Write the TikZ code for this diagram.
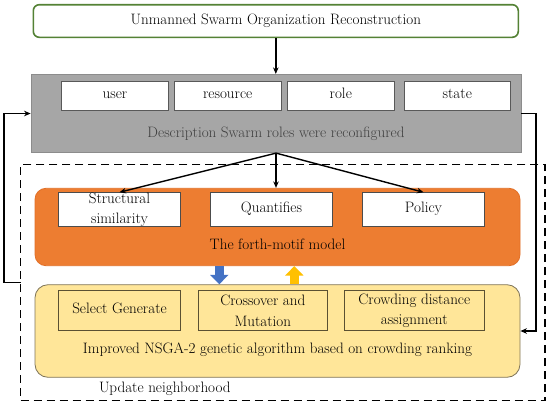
\documentclass[tikz,border=0pt]{standalone}
\usepackage{fontspec}
\usetikzlibrary{arrows.meta}
\definecolor{grn}{RGB}{84,130,53}
\definecolor{grayfill}{RGB}{166,166,166}
\definecolor{grayline}{RGB}{140,140,140}
\definecolor{orng}{RGB}{237,125,49}
\definecolor{orngline}{RGB}{226,112,40}
\definecolor{ylw}{RGB}{255,230,153}
\definecolor{ylwline}{RGB}{128,118,90}
\definecolor{innerline}{RGB}{90,80,50}
\definecolor{blu}{RGB}{68,114,196}
\definecolor{gold}{RGB}{255,192,0}
\definecolor{desc}{RGB}{64,64,64}
\tikzset{
  txt/.style={font=\fontsize{15.1}{20.7}\selectfont, align=center, inner sep=0pt},
  oneline/.style={text height=10pt, text depth=4pt},
  whitebox/.style={draw=black!65, fill=white, line width=0.9pt, minimum height=29pt, minimum width=106.5pt, inner sep=0pt, txt, oneline},
  orbox/.style={draw=black!70, fill=white, line width=0.9pt, minimum height=34pt, minimum width=122pt, inner sep=0pt, txt},
  ybox/.style={draw=innerline, fill=ylw, line width=0.9pt, minimum height=40pt, inner sep=0pt, txt},
  conn/.style={draw=black, line width=1.4pt, -{Stealth[length=6.5pt,width=5.5pt]}},
  fatarrow/.style={line width=9pt, -{Triangle[length=9.5pt,width=18pt]}},
}
\begin{document}
\begin{tikzpicture}[x=1pt,y=-1pt]
\useasboundingbox[fill=white] (0,0) rectangle (550,407);
% top box
\node[draw=grn, line width=1.6pt, rounded corners=6pt, fill=white, minimum width=485pt, minimum height=32.6pt, txt, oneline] (top) at (275.8,21) {Unmanned Swarm Organization Reconstruction};
% gray panel
\node[draw=grayline, fill=grayfill, line width=0.8pt, minimum width=490pt, minimum height=78.4pt, inner sep=0pt] (gray) at (276,113.5) {};
\node[whitebox] (user) at (115,95.5) {user};
\node[whitebox] (resource) at (227.7,95.5) {resource};
\node[whitebox] (role) at (340.8,95.5) {role};
\node[whitebox] (state) at (457.3,95.5) {state};
\node[txt, oneline, text=desc] (desc) at (276,134) {Description Swarm roles were reconfigured};
% dashed region
\node[draw=black, dash pattern=on 8pt off 5pt, line width=1.5pt, minimum width=524.3pt, minimum height=236pt, inner sep=0pt] (dash) at (282.85,282.7) {};
% orange panel
\node[draw=orngline, fill=orng, line width=0.8pt, rounded corners=11pt, minimum width=485pt, minimum height=77.4pt, inner sep=0pt] (orange) at (277.5,227) {};
\node[orbox] (ss) at (119.5,209.7) {};
\node[txt] (sstext) at (119.5,209.7) {Structural\\similarity};
\node[orbox, oneline] (qu) at (271.5,209.7) {Quantifies};
\node[orbox, oneline] (po) at (423.5,209.7) {Policy};
\node[txt, oneline] (forth) at (277.5,246.7) {The forth-motif model};
% yellow panel
\node[draw=ylwline, fill=ylw, line width=0.8pt, rounded corners=13pt, minimum width=485pt, minimum height=92.6pt, inner sep=0pt] (yellow) at (277.5,331) {};
\node[ybox, oneline, minimum width=122.4pt] (sg) at (119.5,310.7) {Select Generate};
\node[ybox, minimum width=129pt] (cm) at (262.8,310.7) {Crossover and\\Mutation};
\node[ybox, minimum width=140pt] (cd) at (414.3,310.7) {Crowding distance\\assignment};
\node[txt, oneline] (nsga) at (277.5,350.7) {Improved NSGA-2 genetic algorithm based on crowding ranking};
\node[txt, oneline] (upd) at (164.8,389) {Update neighborhood};
% connectors
\draw[conn] (top.south) -- (top.south |- gray.north);
\draw[conn] (gray.south) -- (ss.north);
\draw[conn] (gray.south) -- (gray.south |- orange.north);
\draw[conn] (gray.south) -- (po.north);
\coordinate (lf) at (20.7,282.3);
\draw[conn] (lf) -- (4,282.3) |- (gray.west);
\draw[conn] (gray.east) -- (536,113.5) |- (yellow.east);
% fat arrows
\draw[fatarrow, draw=blu, fill=blu] (orange.south -| 219.3,0) -- (yellow.north -| 219.3,0);
\draw[fatarrow, draw=gold, fill=gold] (yellow.north -| 294.3,0) -- (orange.south -| 294.3,0);
\end{tikzpicture}
\end{document}
